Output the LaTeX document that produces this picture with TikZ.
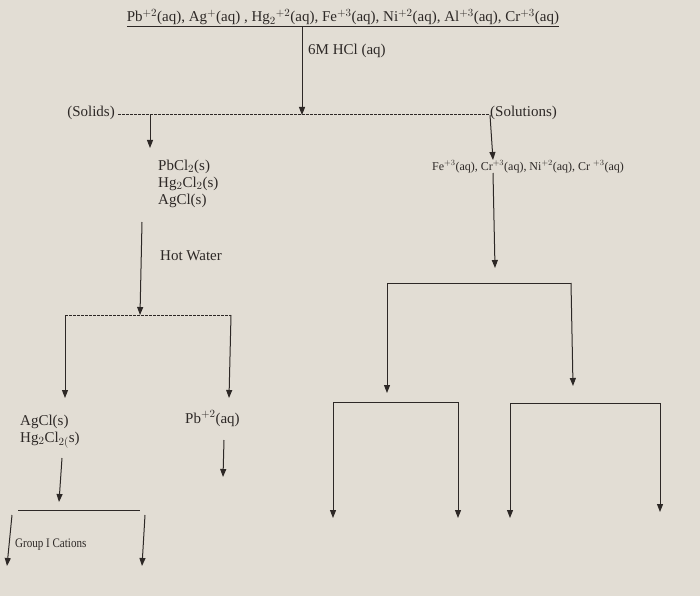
\documentclass[tikz,border=0pt]{standalone}
\usepackage{fontspec}
\setmainfont{Liberation Serif}
\usetikzlibrary{arrows.meta}
\definecolor{paper}{RGB}{226,221,212}
\definecolor{ink}{RGB}{45,40,38}
\begin{document}
\begin{tikzpicture}[x=1pt,y=-1pt,
  ln/.style={draw=ink,line width=1pt},
  ar/.style={ln,-{Triangle[length=8pt,width=6pt]}},
  dl/.style={ln,dash pattern=on 2.5pt off 1.5pt},
  lab/.style={text=ink,font=\fontsize{15}{17}\selectfont,inner sep=0pt},
  sm/.style={lab,font=\fontsize{12}{14}\selectfont}]
\fill[paper] (0,0) rectangle (700,596);
\useasboundingbox (0,0) rectangle (700,596);
% top
\node[lab,anchor=base] (top) at (343,22) {\underline{Pb$^{+2}$(aq), Ag$^{+}$(aq) , Hg$_2$$^{+2}$(aq), Fe$^{+3}$(aq), Ni$^{+2}$(aq), Al$^{+3}$(aq), Cr$^{+3}$(aq)}};
\coordinate (t1) at (302,27);
\coordinate (t2) at (302,115);
\draw[ar] (t1) -- (t2);
\node[lab,anchor=base west] (hcl) at (308,55) {6M HCl (aq)};
\node[lab,anchor=base east] (sol) at (115,117) {(Solids)};
\node[lab,anchor=base west] (solu) at (490,117) {(Solutions)};
\coordinate (d0) at (118,115);
\coordinate (d1) at (150,115);
\coordinate (d2) at (490,115);
\draw[dl] (d0) -- (d2);
\coordinate (l1) at (150,148);
\draw[ar] (d1) -- (l1);
\node[lab,anchor=base west] (p1) at (158,170) {PbCl$_2$(s)};
\node[lab,anchor=base west] (p2) at (158,187) {Hg$_2$Cl$_2$(s)};
\node[lab,anchor=base west] (p3) at (158,204) {AgCl(s)};
\coordinate (r1) at (493,160);
\draw[ar] (d2) -- (r1);
\node[sm,anchor=base] (fe) at (528,170) {Fe$^{+3}$(aq), Cr$^{+3}$(aq), Ni$^{+2}$(aq), Cr $^{+3}$(aq)};
\coordinate (r2) at (493,173);
\coordinate (r3) at (495,268);
\draw[ar] (r2) -- (r3);
% hot water
\node[lab,anchor=base west] (hw) at (160,260) {Hot Water};
\coordinate (h1) at (142,222);
\coordinate (h2) at (140,315);
\draw[ar] (h1) -- (h2);
\coordinate (e1) at (65,315);
\coordinate (e2) at (231,315);
\draw[dl] (e1) -- (e2);
\coordinate (e3) at (65,398);
\coordinate (e4) at (229,398);
\draw[ar] (e1) -- (e3);
\draw[ar] (e2) -- (e4);
\node[lab,anchor=base west] (ag) at (20,425) {AgCl(s)};
\node[lab,anchor=base west] (hg) at (20,442) {Hg$_2$Cl$_{2(}$s)};
\node[lab,anchor=base west] (pb) at (185,423) {Pb$^{+2}$(aq)};
\coordinate (pa) at (224,440);
\coordinate (pb2) at (223,477);
\draw[ar] (pa) -- (pb2);
\coordinate (ga) at (62,458);
\coordinate (gb) at (59,502);
\draw[ar] (ga) -- (gb);
\coordinate (g1) at (18,510);
\coordinate (g2) at (140,510);
\draw[ln] (g1) -- (g2);
\coordinate (g3) at (12,515);
\coordinate (g4) at (7,566);
\coordinate (g5) at (145,515);
\coordinate (g6) at (142,566);
\draw[ar] (g3) -- (g4);
\draw[ar] (g5) -- (g6);
\node[lab,anchor=base west,font=\fontsize{13}{15}\selectfont\addfontfeatures{FakeStretch=0.85}] (gc) at (15,547) {Group I Cations};
% right trees
\coordinate (a1) at (387,283);
\coordinate (a2) at (571,283);
\draw[ln] (a1) -- (a2);
\coordinate (a3) at (387,393);
\coordinate (a4) at (573,386);
\draw[ar] (a1) -- (a3);
\draw[ar] (a2) -- (a4);
\coordinate (b1) at (333,402);
\coordinate (b2) at (458,402);
\draw[ln] (b1) -- (b2);
\coordinate (b3) at (333,518);
\coordinate (b4) at (458,518);
\draw[ar] (b1) -- (b3);
\draw[ar] (b2) -- (b4);
\coordinate (c1) at (510,403);
\coordinate (c2) at (660,403);
\draw[ln] (c1) -- (c2);
\coordinate (c3) at (510,518);
\coordinate (c4) at (660,512);
\draw[ar] (c1) -- (c3);
\draw[ar] (c2) -- (c4);
\end{tikzpicture}
\end{document}
